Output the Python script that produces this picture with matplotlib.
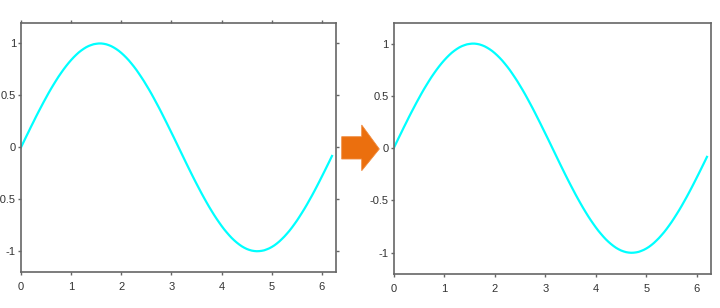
import matplotlib
matplotlib.use("Agg")
import matplotlib.pyplot as plt
from matplotlib.patches import Polygon

# Valeurs (même courbe dans les deux panneaux)
x = [0.00, 0.05, 0.10, 0.15, 0.20, 0.25, 0.30, 0.35, 0.40, 0.45,
     0.50, 0.55, 0.60, 0.65, 0.70, 0.75, 0.80, 0.85, 0.90, 0.95,
     1.00, 1.05, 1.10, 1.15, 1.20, 1.25, 1.30, 1.35, 1.40, 1.45,
     1.50, 1.55, 1.60, 1.65, 1.70, 1.75, 1.80, 1.85, 1.90, 1.95,
     2.00, 2.05, 2.10, 2.15, 2.20, 2.25, 2.30, 2.35, 2.40, 2.45,
     2.50, 2.55, 2.60, 2.65, 2.70, 2.75, 2.80, 2.85, 2.90, 2.95,
     3.00, 3.05, 3.10, 3.15, 3.20, 3.25, 3.30, 3.35, 3.40, 3.45,
     3.50, 3.55, 3.60, 3.65, 3.70, 3.75, 3.80, 3.85, 3.90, 3.95,
     4.00, 4.05, 4.10, 4.15, 4.20, 4.25, 4.30, 4.35, 4.40, 4.45,
     4.50, 4.55, 4.60, 4.65, 4.70, 4.75, 4.80, 4.85, 4.90, 4.95,
     5.00, 5.05, 5.10, 5.15, 5.20, 5.25, 5.30, 5.35, 5.40, 5.45,
     5.50, 5.55, 5.60, 5.65, 5.70, 5.75, 5.80, 5.85, 5.90, 5.95,
     6.00, 6.05, 6.10, 6.15, 6.20]
y = [0.000, 0.050, 0.100, 0.149, 0.199, 0.247, 0.296, 0.343, 0.389, 0.435,
     0.479, 0.523, 0.565, 0.605, 0.644, 0.682, 0.717, 0.751, 0.783, 0.813,
     0.841, 0.867, 0.891, 0.913, 0.932, 0.949, 0.964, 0.976, 0.985, 0.993,
     0.997, 1.000, 1.000, 0.997, 0.992, 0.984, 0.974, 0.961, 0.946, 0.929,
     0.909, 0.887, 0.863, 0.837, 0.808, 0.778, 0.746, 0.711, 0.675, 0.638,
     0.598, 0.558, 0.516, 0.472, 0.427, 0.382, 0.335, 0.287, 0.239, 0.190,
     0.141, 0.092, 0.042, -0.008, -0.058, -0.108, -0.158, -0.207, -0.256, -0.304,
     -0.351, -0.397, -0.443, -0.487, -0.530, -0.572, -0.612, -0.651, -0.688, -0.723,
     -0.757, -0.789, -0.818, -0.846, -0.872, -0.895, -0.916, -0.935, -0.952, -0.966,
     -0.978, -0.987, -0.994, -0.998, -1.000, -0.999, -0.996, -0.991, -0.982, -0.972,
     -0.959, -0.944, -0.926, -0.906, -0.883, -0.859, -0.832, -0.804, -0.773, -0.740,
     -0.706, -0.669, -0.631, -0.592, -0.551, -0.508, -0.465, -0.420, -0.374, -0.327,
     -0.279, -0.231, -0.182, -0.133, -0.083]

xticks = [0, 1, 2, 3, 4, 5, 6]
yticks = [-1, -0.5, 0, 0.5, 1]
ylabels = ["-1", "-0.5", "0", "0.5", "1"]

plt.rcParams["font.family"] = ["Liberation Sans", "DejaVu Sans"]

GRIS = "#666666"
TEXTE = "#333333"
CYAN = "#00ffff"

fig = plt.figure(figsize=(7.2, 3.08), dpi=100)

ax1 = fig.add_axes([21 / 720, 1 - 272 / 308, 315 / 720, 249.3 / 308])
ax2 = fig.add_axes([393.7 / 720, 1 - 273.7 / 308, 317.3 / 720, 251 / 308])

for ax in (ax1, ax2):
    ax.plot(x, y, color=CYAN, lw=1.6)
    ax.set_xlim(0, 6.28)
    ax.set_ylim(-1.2, 1.2)
    ax.set_xticks(xticks)
    ax.set_xticklabels([str(t) for t in xticks])
    ax.set_yticks(yticks)
    ax.set_yticklabels(ylabels)
    for s in ax.spines.values():
        s.set_color(GRIS)
        s.set_linewidth(1.2)
    ax.tick_params(direction="out", length=2.2, width=1, color=GRIS,
                   labelcolor=TEXTE, labelsize=8)
    ax.tick_params(axis="y", pad=1.5)
    ax.tick_params(axis="x", pad=5)

# panneau gauche : graduations sur les quatre côtés
ax1.tick_params(top=True, right=True, labeltop=False, labelright=False)

# flèche orange entre les deux panneaux (coordonnées en pixels)
sommets = [(341.7, 136.7), (361.7, 136.7), (361.7, 125), (379.3, 149),
           (361.7, 170.7), (361.7, 159), (341.7, 159)]
fleche = Polygon([(px / 720, 1 - py / 308) for px, py in sommets],
                 closed=True, facecolor="#eb6f0e", edgecolor="#f08a3c", lw=0.6,
                 transform=fig.transFigure)
fig.patches.append(fleche)

fig.savefig("out.png", dpi=100)
